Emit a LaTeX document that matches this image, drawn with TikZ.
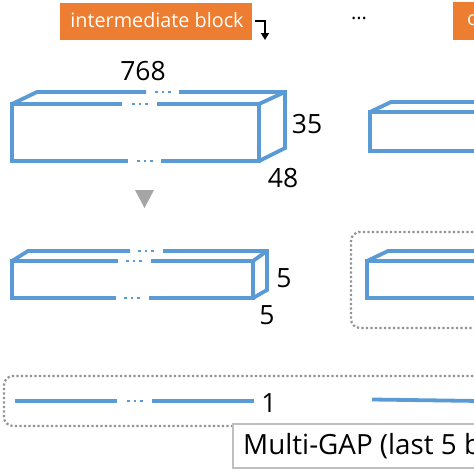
\documentclass[tikz,border=0pt]{standalone}
\usepackage{fontspec}
\setmainfont{Open Sans}
\usetikzlibrary{arrows.meta}
\definecolor{cblue}{HTML}{5B9BD5}
\definecolor{corange}{HTML}{ED7D31}
\definecolor{cgray}{HTML}{A5A5A5}
\definecolor{cdot}{HTML}{939393}
\definecolor{cbox}{HTML}{BFBFBF}
\begin{document}
\begin{tikzpicture}[x=1pt,y=-1pt,
  bl/.style={draw=cblue,line width=3.8pt,line cap=butt,line join=miter},
  gd/.style={draw=cblue,line width=2.8pt,dash pattern=on 2.8pt off 3.8pt},
  dotbox/.style={draw=cdot,line width=2.2pt,dash pattern=on 2.2pt off 2.3pt,rounded corners=9pt},
  num/.style={inner sep=0pt,font=\fontsize{26.5}{28}\selectfont},
  orangebox/.style={inner sep=0pt,text=white,font=\fontsize{19.8}{22}\selectfont}]
\useasboundingbox (0,0) rectangle (474,474);
\clip (0,0) rectangle (474,474);
% orange blocks
\fill[corange] (60,3) rectangle (252,40);
\node[orangebox] (ib) at (157,20.5) {intermediate block};
\coordinate (ibe) at (252,21);
\coordinate (arrtip) at (265,40);
\draw[line width=2pt,-{Triangle[length=7pt,width=8pt]}] ([xshift=3pt]ibe) -| (arrtip);
\node[inner sep=0pt,font=\fontsize{20}{22}\selectfont] (dots) at (359,18) {...};
\fill[corange] (453,2) rectangle (530,40);
\node[orangebox,anchor=west] (ib2) at (467,20.5) {output block};
% cube 1
\draw[bl] (122,104) -- (12,104) -- (12,161) -- (128,161);
\draw[bl] (157,104) -- (259,104) -- (259,161) -- (161,161);
\draw[bl] (12,104) -- (37,92) -- (146,92);
\draw[bl] (179,92) -- (285,92) -- (285,148) -- (259,161);
\draw[bl] (259,104) -- (285,92);
\draw[gd] (155,92) -- (172,92);
\draw[gd] (132,104) -- (149,104);
\draw[gd] (137,161) -- (154,161);
\node[num] (n768) at (143,71) {768};
\node[num] (n35) at (307,124) {35};
\node[num] (n48) at (283,178) {48};
% arrow triangle
\fill[cgray] (135,190) -- (154,190) -- (144.5,208) -- cycle;
% right cube 1
\draw[bl] (490,112) -- (370,112) -- (370,151) -- (490,151);
\draw[bl] (370,112) -- (391,102) -- (490,102);
% cube 2
\draw[bl] (118,261) -- (12,261) -- (12,298) -- (116,298);
\draw[bl] (151,261) -- (253,261) -- (253,298) -- (149,298);
\draw[bl] (12,261) -- (28,251) -- (130,251);
\draw[bl] (163,251) -- (267,251) -- (267,290) -- (253,298);
\draw[bl] (253,261) -- (267,251);
\draw[gd] (138,251) -- (155,251);
\draw[gd] (126,261) -- (143,261);
\draw[gd] (124,298) -- (141,298);
\node[num] (n5a) at (284,278) {5};
\node[num] (n5b) at (267,315) {5};
% right cube 2 with dotted frame
\draw[dotbox] (500,232) -- (351,232) -- (351,328) -- (500,328);
\draw[bl] (490,261) -- (367,261) -- (367,298) -- (490,298);
\draw[bl] (367,261) -- (388,251) -- (490,251);
% bottom row
\draw[dotbox] (500,376) -- (4,376) -- (4,426) -- (500,426);
\draw[bl] (15,401) -- (117,401);
\draw[gd] (127,401) -- (144,401);
\draw[bl] (152,401) -- (254,401);
\node[num] (n1) at (269,403) {1};
\draw[bl] (372,399.5) -- (480,401);
\draw[draw=cbox,fill=white,line width=1.5pt] (233,424) rectangle (520,468);
\node[num,anchor=west,font=\fontsize{27.8}{30}\selectfont] (mg) at (243,446) {Multi-GAP (last 5 blocks)};
\end{tikzpicture}
\end{document}
